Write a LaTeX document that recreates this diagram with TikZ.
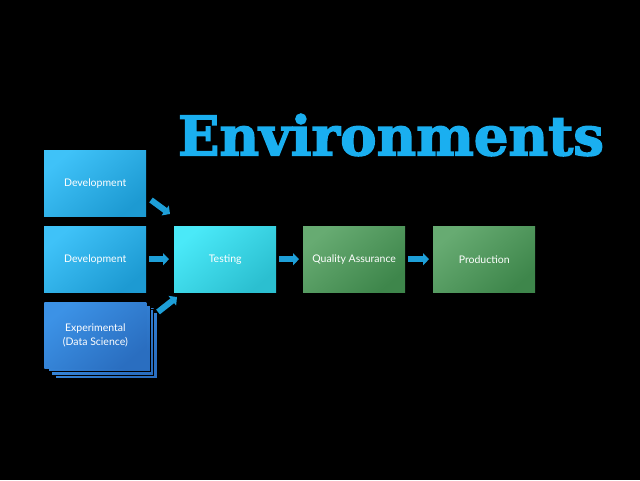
\documentclass[tikz,border=0pt]{standalone}
\usepackage{fontspec}
\setmainfont{Lato}
\newfontfamily\titlefont[FakeBold=2.5]{DejaVu Serif}
\usetikzlibrary{arrows.meta}
\definecolor{devA}{HTML}{3FC2F8}
\definecolor{devB}{HTML}{1D9AD2}
\definecolor{tstA}{HTML}{4AE9F8}
\definecolor{tstB}{HTML}{2BBFD0}
\definecolor{qaA}{HTML}{67AB72}
\definecolor{qaB}{HTML}{3E864B}
\definecolor{expA}{HTML}{3C92E6}
\definecolor{expB}{HTML}{2A6EC0}
\definecolor{arr}{HTML}{1E9FD8}
\definecolor{ttl}{HTML}{1AAFF0}
\tikzset{
  box/.style={minimum width=102pt, minimum height=66pt, inner sep=0pt, anchor=north west,
    text=white, font=\fontsize{10.5}{14}\selectfont, align=center},
  devbox/.style={box, top color=devA, bottom color=devB, shading angle=40},
  tstbox/.style={box, top color=tstA, bottom color=tstB, shading angle=40},
  qabox/.style={box, top color=qaA, bottom color=qaB, shading angle=40},
  expbox/.style={box, top color=expA, bottom color=expB, shading angle=40, draw=black, line width=0.7pt},
  blockarrow/.style={draw=arr, line width=6pt, -{Triangle[width=12pt,length=6pt]}}
}
\begin{document}
\begin{tikzpicture}[x=1pt,y=-1pt]
\fill[black] (0,0) rectangle (640,480);
\useasboundingbox (0,0) rectangle (640,480);
\node[font=\titlefont\bfseries\fontsize{54.5}{60}\selectfont, text=ttl, inner sep=0pt] (title) at (391,135) {Environments};
\node[devbox] (dev1) at (44,150) {Development};
\node[devbox] (dev2) at (44,226) {Development};
\node[expbox] (exp3) at (55,312) {};
\node[expbox] (exp2) at (51.3,308.5) {};
\node[expbox] (exp1) at (47.7,305) {};
\node[expbox, draw=none] (exp) at (44,302) {Experimental\\(Data Science)};
\node[tstbox] (test) at (174,226) {Testing};
\node[qabox] (qa) at (303,226) {Quality Assurance};
\node[qabox] (prod) at (433,226) {Production};
\coordinate (a1s) at (151,200); \coordinate (a1e) at (170,214);
\coordinate (a3s) at (158,312); \coordinate (a3e) at (177,297);
\draw[blockarrow] (a1s) -- (a1e);
\draw[blockarrow] ([xshift=3pt]dev2.east) -- ([xshift=-5pt]test.west);
\draw[blockarrow] (a3s) -- (a3e);
\draw[blockarrow] ([xshift=3pt]test.east) -- ([xshift=-4pt]qa.west);
\draw[blockarrow] ([xshift=3pt]qa.east) -- ([xshift=-4pt]prod.west);
\end{tikzpicture}
\end{document}
